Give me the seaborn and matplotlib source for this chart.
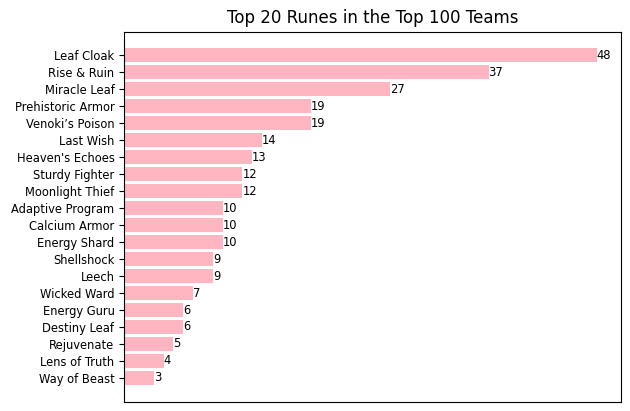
import pandas as pd
import seaborn as sns
import matplotlib.pyplot as plt

runes = ['Leaf Cloak', 'Rise & Ruin', 'Miracle Leaf', 'Prehistoric Armor', 'Venoki\u2019s Poison',
         'Last Wish', "Heaven's Echoes", 'Sturdy Fighter', 'Moonlight Thief', 'Adaptive Program',
         'Calcium Armor', 'Energy Shard', 'Shellshock', 'Leech', 'Wicked Ward',
         'Energy Guru', 'Destiny Leaf', 'Rejuvenate', 'Lens of Truth', 'Way of Beast']
counts = [48, 37, 27, 19, 19, 14, 13, 12, 12, 10, 10, 10, 9, 9, 7, 6, 6, 5, 4, 3]

df = pd.DataFrame({'rune': runes, 'count': counts})

fig, ax = plt.subplots(figsize=(6.3, 4.11), dpi=100)
sns.barplot(data=df, y='rune', x='count', orient='h', color='lightpink',
            saturation=1, width=0.8, ax=ax)

n = len(runes)
pad = 0.05 * (n - 1 + 0.8)
ax.set_ylim(n - 1 + 0.4 + pad, -0.4 - pad)
ax.set_xlim(0, max(counts) * 1.05)

for i, v in enumerate(counts):
    ax.text(v, i, str(v), va='center', ha='left', fontsize=8.3)

ax.set_xticks([])
ax.set_xlabel('')
ax.set_ylabel('')
ax.tick_params(axis='y', labelsize=8.3)
ax.set_title('Top 20 Runes in the Top 100 Teams', fontsize=12)

fig.subplots_adjust(left=0.197, right=0.985, top=0.923, bottom=0.023)
fig.savefig('out.png', dpi=100)
